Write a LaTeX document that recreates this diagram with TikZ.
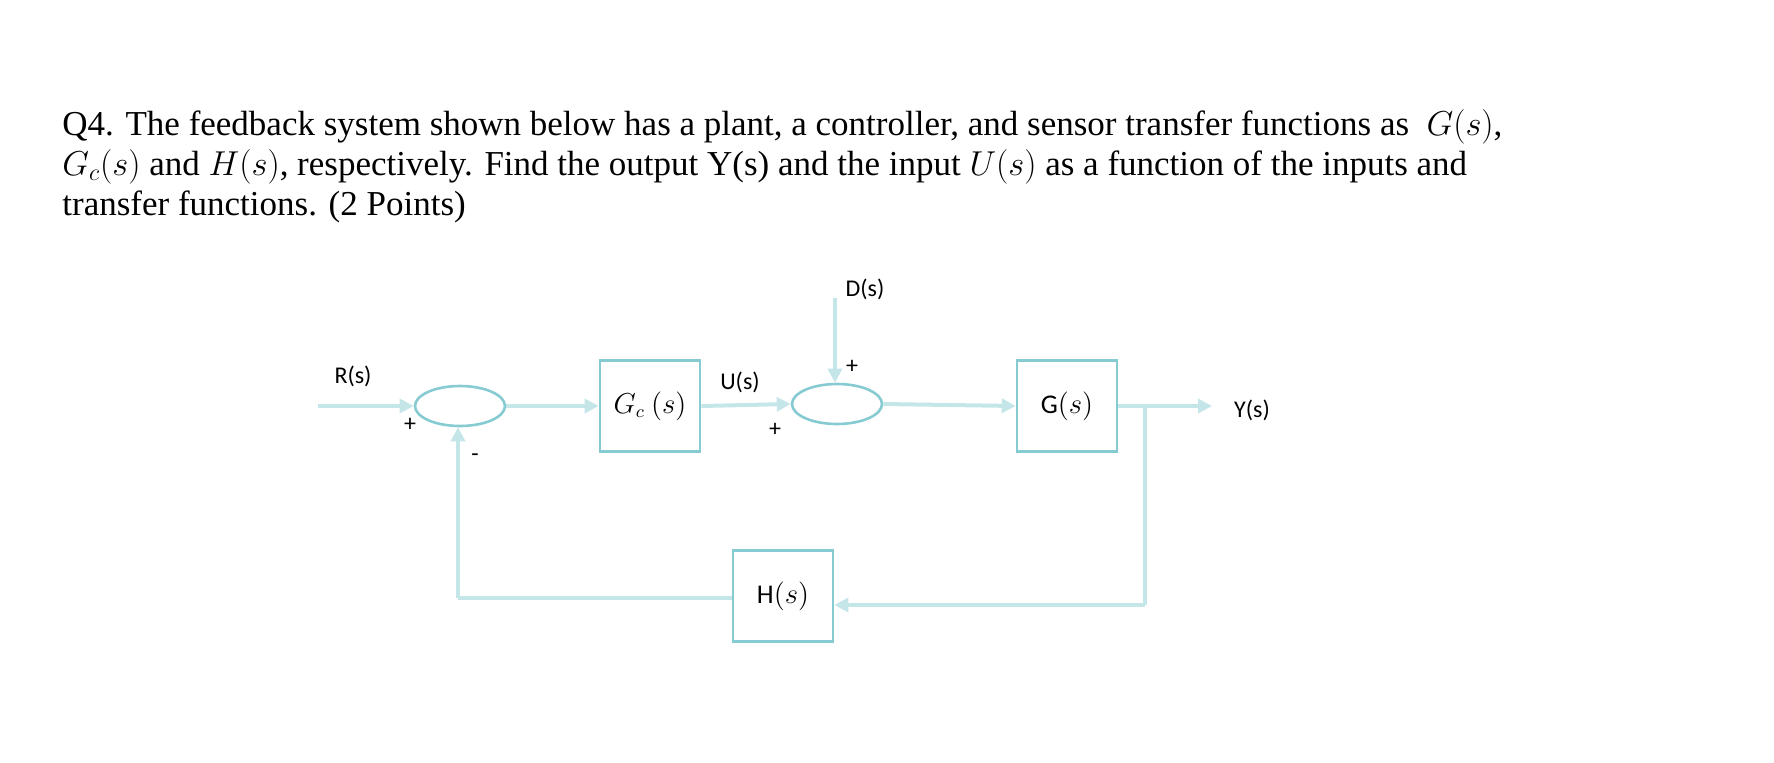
\documentclass[tikz,border=0pt]{standalone}
\usepackage{fontspec}
\setmainfont{Liberation Serif}
\newfontfamily\carl{Carlito}
\usetikzlibrary{arrows.meta,shapes.geometric}
\definecolor{ln}{HTML}{C4E6E8}
\definecolor{bd}{HTML}{86CBD2}
\begin{document}
\begin{tikzpicture}[x=0.5pt,y=-0.5pt,
  txt/.style={anchor=base west,inner sep=0,font=\fontsize{17.5}{20}\selectfont},
  lab/.style={inner sep=0,font=\carl\fontsize{12}{14}\selectfont},
  blk/.style={draw=bd,line width=1.3pt,minimum width=50pt,minimum height=45.5pt,inner sep=0,font=\carl\fontsize{13.5}{15}\selectfont},
  sum/.style={ellipse,draw=bd,line width=1.3pt,minimum width=45pt,minimum height=20pt,inner sep=0},
  sig/.style={draw=ln,line width=2pt,-{Triangle[width=7pt,length=7pt,fill=ln]}},
  wire/.style={draw=ln,line width=2pt}]
\useasboundingbox (0,0) rectangle (1774,762);
\node[txt] (l1) at (62,135) {Q4. The feedback system shown below has a plant, a controller, and sensor transfer functions as \ $G(s)$,};
\node[txt] (l2) at (62,175) {$G_c(s)$ and $H(s)$, respectively. Find the output Y(s) and the input $U(s)$ as a function of the inputs and};
\node[txt] (l3) at (62,215) {transfer functions. (2 Points)};
\node[sum] (s1) at (460,406) {};
\node[sum] (s2) at (837,404) {};
\node[blk] (gc) at (650,406) {$G_c\ (s)$};
\node[blk] (g) at (1067,406) {G$(s)$};
\node[blk] (h) at (783,596) {H$(s)$};
\coordinate (r) at (318,406);
\coordinate (y) at (1212,406);
\coordinate (br) at (1145,406);
\coordinate (bd1) at (1145,605);
\coordinate (fb) at (458,598);
\coordinate (d) at (835,298);
\node[lab] (rl) at (353,376) {R(s)};
\node[lab] (ul) at (740,382) {U(s)};
\node[lab] (dl) at (865,289) {D(s)};
\node[lab] (yl) at (1252,410) {Y(s)};
\node[lab] (p1) at (410,425) {+};
\node[lab] (p2) at (775,430) {+};
\node[lab] (p3) at (852,367) {+};
\node[lab] (m1) at (475,458) {-};
\draw[sig] (r) -- (s1.west);
\draw[sig] (s1.east) -- (gc.west);
\draw[sig] (gc.east) -- (s2.west);
\draw[sig] (s2.east) -- (g.west);
\draw[sig] (g.east) -- (y);
\draw[sig] (d) -- (s2.north -| d);
\draw[wire] (br) -- (bd1);
\draw[sig] (bd1) -- (h.east |- bd1);
\draw[wire] (h.west |- fb) -- (fb);
\draw[sig] (fb) -- (s1.south -| fb);
\end{tikzpicture}
\end{document}
